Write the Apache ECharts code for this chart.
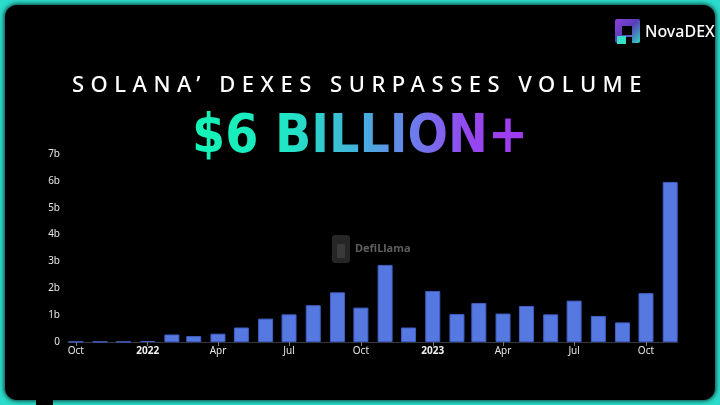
<!DOCTYPE html>
<html>
<head>
<meta charset="utf-8">
<script src="https://cdn.jsdelivr.net/npm/echarts@6/dist/echarts.min.js"></script>
<style>
  html, body { margin:0; padding:0; width:720px; height:405px; overflow:hidden; background:#2bdccb; }
  #frame { position:absolute; left:5px; top:5px; right:5px; bottom:5px; border-radius:12px; background:#000;
           box-shadow: 0 0 4px 1px rgba(0,0,0,0.75); }
  #chart { position:absolute; left:0; top:0; width:720px; height:405px; }
  .t1 { position:absolute; left:0; width:720px; top:68px; text-align:center; color:#fff;
        font-family:"Noto Sans", sans-serif; font-weight:500; font-size:22px; letter-spacing:6.5px; line-height:30px; }
  .t2 { position:absolute; left:0; width:720px; top:101px; text-align:center;
        font-family:"DejaVu Sans Condensed","DejaVu Sans",sans-serif; font-stretch:condensed; font-weight:bold; font-size:53px; line-height:66px; }
  .t2 span { background: linear-gradient(90deg, #12f5b5 0%, #1fe6c4 28%, #45b0dc 50%, #6c7cec 66%, #9448f0 82%, #a338ee 100%);
             -webkit-background-clip:text; background-clip:text; color:transparent; }
  .logo { position:absolute; left:645px; top:19px; color:#fff; font-family:"Noto Sans", sans-serif; font-size:16px; font-weight:500; line-height:24px; }
  #blk { position:absolute; left:36px; top:394px; width:17px; height:11px; background:#000; }
</style>
</head>
<body>
<div id="frame"></div>
<div id="chart"></div>
<div class="t1">SOLANA’ DEXES SURPASSES VOLUME</div>
<div class="t2"><span>$6 BILLION+</span></div>
<div class="logo">NovaDEX</div>
<div id="blk"></div>
<script>
// Monthly Solana DEX volume (billions USD)
const months = ['2021-10-01','2021-11-01','2021-12-01','2022-01-01','2022-02-01','2022-03-01','2022-04-01','2022-05-01','2022-06-01','2022-07-01','2022-08-01','2022-09-01','2022-10-01','2022-11-01','2022-12-01','2023-01-01','2023-02-01','2023-03-01','2023-04-01','2023-05-01','2023-06-01','2023-07-01','2023-08-01','2023-09-01','2023-10-01','2023-11-01'];
const volumes = [0.01,0.01,0.01,0.04,0.28,0.22,0.31,0.54,0.87,1.03,1.37,1.85,1.28,2.87,0.54,1.9,1.04,1.45,1.06,1.34,1.03,1.54,0.97,0.73,1.82,5.96];
const tickDates = ['2021-10-01','2022-01-01','2022-04-01','2022-07-01','2022-10-01','2023-01-01','2023-04-01','2023-07-01','2023-10-01'];
const tickLabels = ['Oct','2022','Apr','Jul','Oct','2023','Apr','Jul','Oct'];
const yTicks = [0,1,2,3,4,5,6,7];
const yLabels = ['0','1b','2b','3b','4b','5b','6b','7b'];

const DAY = 86400000;
const toDay = d => Math.round(Date.UTC(+d.slice(0,4), +d.slice(5,7) - 1, +d.slice(8,10)) / DAY);
const tickDays = tickDates.map(toDay);
const labelMap = {};
tickDays.forEach((t, i) => { labelMap[t] = tickLabels[i]; });

const chart = echarts.init(document.getElementById('chart'), null, { renderer: 'canvas' });
chart.setOption({
  backgroundColor: 'transparent',
  animation: false,
  grid: { left: 68, right: 42, top: 154, bottom: 63 },
  xAxis: {
    type: 'value',
    min: toDay('2021-09-21'),
    max: toDay('2023-11-11'),
    axisLine: { show: true, onZero: false, lineStyle: { color: '#333842', width: 1 } },
    axisTick: { show: true, length: 4, lineStyle: { color: '#777' }, customValues: tickDays },
    splitLine: { show: false },
    axisLabel: {
      customValues: tickDays,
      margin: 4,
      color: '#e6e6e6',
      fontSize: 10,
      fontFamily: 'Noto Sans',
      formatter: function (v) {
        const s = labelMap[v] || '';
        return /^\d{4}$/.test(s) ? '{b|' + s + '}' : s;
      },
      rich: { b: { fontWeight: 'bold', fontSize: 10, color: '#f0f0f0', fontFamily: 'Noto Sans' } }
    }
  },
  yAxis: {
    type: 'value',
    min: 0, max: 7, interval: 1,
    axisLine: { show: false },
    axisTick: { show: false },
    splitLine: { show: false },
    axisLabel: {
      margin: 8, color: '#e6e6e6', fontSize: 10, fontFamily: 'Noto Sans',
      formatter: function (v) { return yLabels[yTicks.indexOf(v)]; }
    }
  },
  graphic: [
    { type: 'rect', shape: { x: 332, y: 235, width: 18, height: 28, r: 3 }, style: { fill: '#262626' } },
    { type: 'rect', shape: { x: 337, y: 244, width: 8, height: 14, r: 1 }, style: { fill: '#3a3a3a' } },
    { type: 'text', x: 355, y: 249, style: { text: 'DefiLlama', fill: '#5e5e5e', font: 'bold 11px "Noto Sans"', verticalAlign: 'middle' } },
    { type: 'rect', shape: { x: 615, y: 19, width: 25, height: 24, r: 2 },
      style: { fill: { type: 'linear', x: 0, y: 0, x2: 1, y2: 1, colorStops: [
        { offset: 0, color: '#8b3fd9' }, { offset: 0.5, color: '#5a3fb8' }, { offset: 1, color: '#2fd6c2' } ] } } },
    { type: 'rect', shape: { x: 622, y: 26, width: 10, height: 9 }, style: { fill: '#000' } },
    { type: 'rect', shape: { x: 626, y: 37, width: 6, height: 6 }, style: { fill: '#000' } },
    { type: 'rect', shape: { x: 617, y: 36, width: 9, height: 8 }, style: { fill: '#33e0c8' } }
  ],
  series: [{
    type: 'bar',
    barWidth: 15,
    data: months.map((m, i) => [toDay(m), volumes[i]]),
    itemStyle: { color: '#5679e1', borderColor: '#3f5fc4', borderWidth: 1 }
  }]
});
</script>
</body>
</html>
